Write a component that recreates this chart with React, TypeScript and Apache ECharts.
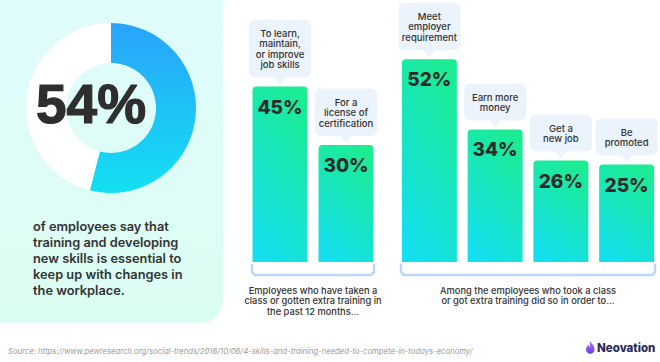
import React, { useEffect, useRef } from "react";
import * as echarts from "echarts";

// ---- data ----
const donutValues = [54, 46];
const donutLabel = "54%";
const statText = [
  "of employees say that",
  "training and developing",
  "new skills is essential to",
  "keep up with changes in",
  "the workplace.",
];
const leftCategories = ["To learn,\nmaintain,\nor improve\njob skills", "For a\nlicense of\ncertification"];
const leftValues = [45, 30];
const rightCategories = ["Meet\nemployer\nrequirement", "Earn more\nmoney", "Get a\nnew job", "Be\npromoted"];
const rightValues = [52, 34, 26, 25];
const leftCaption = ["Employees who have taken a", "class or gotten extra training in", "the past 12 months..."];
const rightCaption = ["Among the employees who took a class", "or got extra training did so in order to..."];
const sourceText =
  "Source: https://www.pewresearch.org/social-trends/2016/10/06/4-skills-and-training-needed-to-compete-in-todays-economy/";
const brandName = "Neovation";

const FLAME =
  "M5 0 C6 3 10 5 10 10 C10 13 7.8 15 5 15 C2.2 15 0 13 0 10 C0 7 2 5.5 3 4 C3.2 6 4 7 5 7.5 C4.5 5 4 2.5 5 0 Z";
try {
  echarts.graphic.registerShape("flame", echarts.graphic.extendPath(FLAME, {}) as any);
} catch (e) {}

const calloutFill = "#ebf3fc";
const barGradient = () =>
  new echarts.graphic.LinearGradient(0.7, 0, 0.3, 1, [
    { offset: 0, color: "#1cec92" },
    { offset: 1, color: "#14dfee" },
  ]);

const makeCallout = (labels: string[]) => (params: any, api: any) => {
  const idx = params.dataIndex;
  const pt = api.coord([api.value(0), api.value(1)]);
  const cx = pt[0];
  const top = pt[1];
  const text = labels[idx];
  const lines = text.split("\n").length;
  const h = lines * 10.5 + 16;
  const w = 62;
  const bottom = top - 9;
  const boxTop = bottom - h;
  return {
    type: "group",
    children: [
      { type: "rect", shape: { x: cx - w / 2, y: boxTop, width: w, height: h, r: 6 }, style: { fill: calloutFill } },
      {
        type: "polygon",
        shape: { points: [[cx - 6, bottom - 1], [cx + 6, bottom - 1], [cx, top - 2]] },
        style: { fill: calloutFill },
      },
      {
        type: "text",
        x: cx,
        y: boxTop + h / 2 + 0.5,
        style: {
          text,
          align: "center",
          verticalAlign: "middle",
          fill: "#333333",
          fontSize: 9.5,
          fontWeight: 500,
          fontFamily: "Inter, sans-serif",
          lineHeight: 10.5,
        },
      },
    ],
  };
};

const barLabel = {
  show: true,
  position: "insideTop",
  distance: 11,
  formatter: "{c}%",
  fontSize: 19,
  fontWeight: 800,
  fontFamily: "Inter, sans-serif",
  color: "#2b2b2b",
};

const bracket = (x1: number, x2: number) => ({
  type: "polyline",
  shape: {
    points: [
      [x1, 265],
      [x1, 272],
      [x1 + 3, 275],
      [x2 - 3, 275],
      [x2, 272],
      [x2, 265],
    ],
  },
  style: { stroke: "#bdd7f6", lineWidth: 2.5, fill: "none", lineJoin: "round", lineCap: "round" },
});

export default function App() {
  const ref = useRef<HTMLDivElement>(null);
  useEffect(() => {
    if (!ref.current) return;
    const chart = echarts.init(ref.current, undefined, { renderer: "svg" });
    const option: any = {
      animation: false,
      backgroundColor: "#ffffff",
      grid: [
        { left: 247, width: 132, top: 28, bottom: 100 },
        { left: 396.5, width: 263, top: 28, bottom: 100 },
      ],
      xAxis: [
        { type: "category", gridIndex: 0, data: leftCategories, show: false },
        { type: "category", gridIndex: 1, data: rightCategories, show: false },
      ],
      yAxis: [
        { type: "value", gridIndex: 0, min: 0, max: 60, show: false },
        { type: "value", gridIndex: 1, min: 0, max: 60, show: false },
      ],
      series: [
        {
          type: "pie",
          center: [111, 108],
          radius: [45, 85],
          startAngle: 90,
          clockwise: true,
          silent: true,
          label: { show: false },
          labelLine: { show: false },
          emphasis: { disabled: true },
          z: 3,
          data: [
            {
              value: donutValues[0],
              itemStyle: {
                color: new echarts.graphic.LinearGradient(0, 0, 0, 1, [
                  { offset: 0, color: "#2aa3fb" },
                  { offset: 1, color: "#13e0f1" },
                ]),
              },
            },
            { value: donutValues[1], itemStyle: { color: "#ffffff" } },
          ],
        },
        {
          type: "bar",
          xAxisIndex: 0,
          yAxisIndex: 0,
          data: leftValues,
          barWidth: 55,
          itemStyle: { color: barGradient(), borderRadius: [4, 4, 0, 0] },
          label: barLabel,
          silent: true,
        },
        {
          type: "bar",
          xAxisIndex: 1,
          yAxisIndex: 1,
          data: rightValues,
          barWidth: 55,
          itemStyle: { color: barGradient(), borderRadius: [4, 4, 0, 0] },
          label: barLabel,
          silent: true,
        },
        {
          type: "custom",
          xAxisIndex: 0,
          yAxisIndex: 0,
          clip: false,
          silent: true,
          encode: { x: 0, y: 1 },
          data: leftValues.map((v, i) => [i, v]),
          renderItem: makeCallout(leftCategories),
        },
        {
          type: "custom",
          xAxisIndex: 1,
          yAxisIndex: 1,
          clip: false,
          silent: true,
          encode: { x: 0, y: 1 },
          data: rightValues.map((v, i) => [i, v]),
          renderItem: makeCallout(rightCategories),
        },
      ],
      graphic: [
        {
          type: "rect",
          z: -10,
          shape: { x: -30, y: -30, width: 253, height: 353, r: 22 },
          style: {
            fill: new echarts.graphic.LinearGradient(0, 0, 0, 1, [
              { offset: 0, color: "#e0fcfd" },
              { offset: 1, color: "#dcfdf2" },
            ]),
          },
        },
        {
          type: "text",
          z: 100,
          x: 91,
          y: 104,
          style: {
            text: donutLabel,
            align: "center",
            verticalAlign: "middle",
            fill: "#2e2e2e",
            fontSize: 55,
            fontWeight: 900,
            fontFamily: "Liberation Sans, Arial, sans-serif",
            stroke: "#2e2e2e",
            lineWidth: 1.2,
          },
        },
        {
          type: "text",
          x: 33,
          y: 218.5,
          style: {
            text: statText.join("\n"),
            align: "left",
            verticalAlign: "top",
            fill: "#333333",
            fontSize: 12.8,
            fontWeight: 600,
            fontFamily: "Inter, sans-serif",
            lineHeight: 16,
          },
        },
        bracket(252, 374),
        bracket(401, 655),
        {
          type: "text",
          x: 313,
          y: 285,
          style: {
            text: leftCaption.join("\n"),
            align: "center",
            verticalAlign: "top",
            fill: "#333333",
            fontSize: 9.3,
            fontWeight: 500,
            fontFamily: "Inter, sans-serif",
            lineHeight: 10.5,
          },
        },
        {
          type: "text",
          x: 528,
          y: 285,
          style: {
            text: rightCaption.join("\n"),
            align: "center",
            verticalAlign: "top",
            fill: "#333333",
            fontSize: 9.3,
            fontWeight: 500,
            fontFamily: "Inter, sans-serif",
            lineHeight: 10.5,
          },
        },
        {
          type: "text",
          x: 8,
          y: 351,
          style: {
            text: sourceText,
            align: "left",
            verticalAlign: "middle",
            fill: "#9a9a9a",
            fontSize: 7.7,
            fontStyle: "italic",
            fontFamily: "Inter, sans-serif",
          },
        },
        {
          type: "flame",
          x: 586,
          y: 341,
          scaleX: 0.85,
          scaleY: 0.85,
          style: {
            fill: new echarts.graphic.LinearGradient(0, 0, 0, 1, [
              { offset: 0, color: "#b373f5" },
              { offset: 1, color: "#6a3bdc" },
            ]),
          },
        },
        {
          type: "text",
          x: 597,
          y: 348,
          style: {
            text: brandName,
            align: "left",
            verticalAlign: "middle",
            fill: "#2b2a58",
            fontSize: 11.5,
            fontWeight: 800,
            fontFamily: "Inter, sans-serif",
          },
        },
      ],
    };
    chart.setOption(option);
    return () => chart.dispose();
  }, []);
  return <div ref={ref} style={{ position: "fixed", left: 0, top: 0, width: 660, height: 362 }} />;
}
